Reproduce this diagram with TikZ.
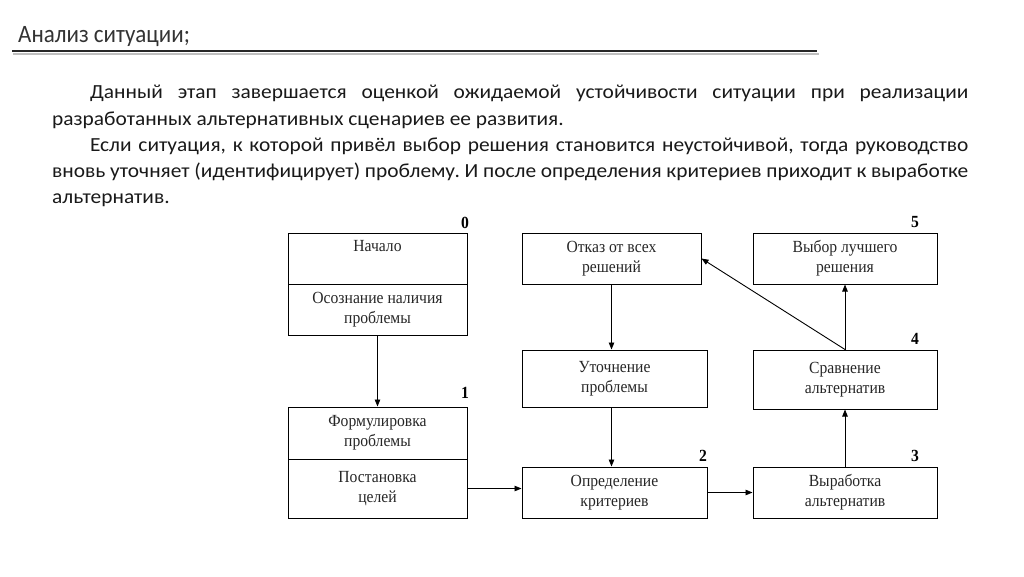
\documentclass[tikz,border=0pt]{standalone}
\usepackage{fontspec}
\setmainfont{Liberation Serif}
\newfontfamily\boxfont[FakeStretch=0.92]{Liberation Serif}
\newfontfamily\slidefont[FakeStretch=1.07]{Carlito}
\newfontfamily\headfont[FakeStretch=0.92]{Carlito}
\usetikzlibrary{positioning}
\usetikzlibrary{arrows.meta}

\begin{document}
\begin{tikzpicture}[x=1pt, y=-1pt,
	>={Triangle[length=7pt, width=5.5pt]},
	blk/.style={draw, line width=1pt, align=center, inner sep=0pt, text=black!85, font=\boxfont\fontsize{17}{20}\selectfont},
	num/.style={inner sep=0pt, font=\boxfont\bfseries\fontsize{17}{17}\selectfont}]
\useasboundingbox (0,0) rectangle (1024,576);
% heading
\node[anchor=base west, inner sep=0pt, text=black!80, font=\headfont\fontsize{25}{25}\selectfont] (title) at (18,42) {Анализ ситуации;};
\draw[black!25, line width=2pt] (13,54) -- (819,54);
\draw[black!85, line width=2pt] (12,51) -- (817,51);
\node[anchor=north west, inner sep=0pt, text width=916pt, align=justify, text=black!90, font=\slidefont\fontsize{20}{26.3}\selectfont\frenchspacing] (txt) at (52,85) {\hspace*{38pt}Данный этап завершается оценкой ожидаемой устойчивости ситуации при реализации\linebreak разработанных альтернативных сценариев ее развития.\par
\hspace*{38pt}Если ситуация, к которой привёл выбор решения становится неустойчивой, тогда руководство\linebreak вновь уточняет (идентифицирует) проблему. И после определения критериев приходит к выработке\linebreak альтернатив.};

% boxes
\node[blk, minimum width=179pt, minimum height=51pt] (nach) at (377.5,258.5) {Начало\\\strut};
\node[blk, minimum width=179pt, minimum height=51pt] (osozn) at (377.5,309.5) {Осознание наличия\\проблемы};
\node[blk, minimum width=179pt, minimum height=52pt] (form) at (377.5,433) {Формулировка\\проблемы};
\node[blk, minimum width=179pt, minimum height=59pt] (post) at (377.5,488.5) {Постановка\\целей};
\node[blk, minimum width=179pt, minimum height=51pt] (otkaz) at (611.5,258.5) {Отказ от всех\\решений};
\node[blk, minimum width=185pt, minimum height=57pt] (utoch) at (614.5,378.5) {Уточнение\\проблемы};
\node[blk, minimum width=185pt, minimum height=51pt] (opred) at (614.5,492.5) {Определение\\критериев};
\node[blk, minimum width=184pt, minimum height=51pt] (vybor) at (845,258.5) {Выбор лучшего\\решения};
\node[blk, minimum width=184pt, minimum height=59pt] (sravn) at (845,379.5) {Сравнение\\альтернатив};
\node[blk, minimum width=184pt, minimum height=51pt] (vyrab) at (845,492.5) {Выработка\\альтернатив};

% step numbers
\node[num] (n0) at (465,222.5) {0};
\node[num] (n1) at (465,392.5) {1};
\node[num] (n2) at (703,455.5) {2};
\node[num] (n3) at (915,455.5) {3};
\node[num] (n4) at (915,338.5) {4};
\node[num] (n5) at (915,222.5) {5};

\draw[->, line width=0.9pt] (osozn) -- (form);
\draw[->, line width=0.9pt] (otkaz.south) -- (otkaz.south |- utoch.north);
\draw[->, line width=0.9pt] (utoch.south -| otkaz.south) -- (otkaz.south |- opred.north);
\draw[->, line width=0.9pt] (post.east) -- (post.east -| opred.west);
\draw[->, line width=0.9pt] (opred) -- (vyrab);
\draw[->, line width=0.9pt] (vyrab) -- (sravn);
\draw[->, line width=0.9pt] (sravn) -- (vybor);
\draw[->, line width=0.9pt] (sravn.north) -- (otkaz.east);
\end{tikzpicture}
\end{document}
